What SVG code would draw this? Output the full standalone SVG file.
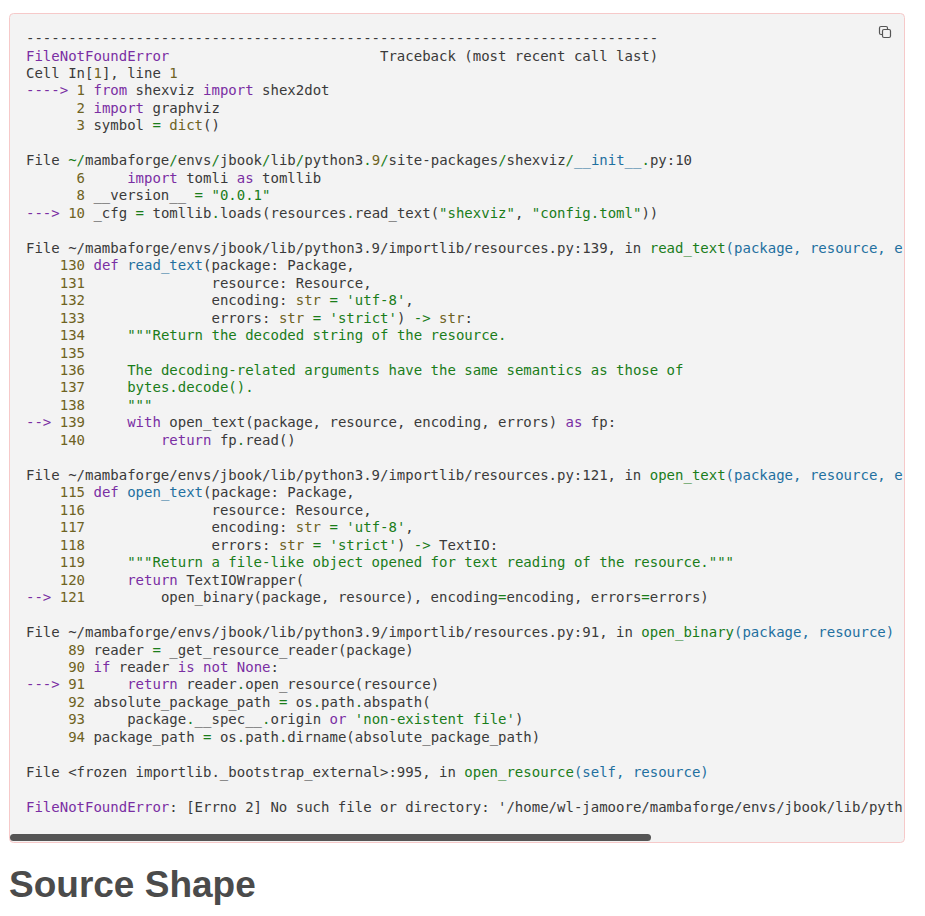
<svg xmlns="http://www.w3.org/2000/svg" width="925" height="916" viewBox="0 0 925 916">
<style>
text.c{font-family:"DejaVu Sans Mono","Liberation Mono",monospace;font-size:14px;fill:#3a3a3a;white-space:pre}
.p{fill:#7a2ea3}.o{fill:#6e6222}.g{fill:#1a7d1a}.b{fill:#1f70a0}
</style>
<defs><clipPath id="clip"><rect x="10" y="14" width="893" height="828"/></clipPath></defs>
<rect width="925" height="916" fill="#fff"/>
<g id="output-box">
<rect x="9.5" y="13.5" width="895" height="829" rx="4" fill="#f3f3f3" stroke="#f6c9c9"/>
<g fill="none" stroke="#555" stroke-width="1.2">
<rect x="879.5" y="26.5" width="8" height="8" rx="1.5"/>
<rect x="882.5" y="29.5" width="8" height="8" rx="1.5" fill="#f3f3f3"/>
</g>
<rect x="10" y="834" width="641" height="7" rx="3.5" fill="#555"/>
</g>
<g id="traceback" clip-path="url(#clip)">
<text class="c" xml:space="preserve" x="26" y="43">---------------------------------------------------------------------------</text>
<text class="c" xml:space="preserve" x="26" y="60.5"><tspan class="p">FileNotFoundError</tspan>                         Traceback (most recent call last)</text>
<text class="c" xml:space="preserve" x="26" y="77.9">Cell In[<tspan class="o">1</tspan>], line <tspan class="o">1</tspan></text>
<text class="c" xml:space="preserve" x="26" y="95.4"><tspan class="p">----&gt;</tspan> <tspan class="o">1</tspan> <tspan class="p">from</tspan> shexviz <tspan class="p">import</tspan> shex2dot</text>
<text class="c" xml:space="preserve" x="26" y="112.9">      <tspan class="o">2</tspan> <tspan class="p">import</tspan> graphviz</text>
<text class="c" xml:space="preserve" x="26" y="130.4">      <tspan class="o">3</tspan> symbol <tspan class="g">=</tspan> <tspan class="o">dict</tspan>()</text>
<text class="c" xml:space="preserve" x="26" y="165.3">File <tspan class="g">~/</tspan>mambaforge<tspan class="g">/</tspan>envs<tspan class="g">/</tspan>jbook<tspan class="g">/</tspan>lib<tspan class="g">/</tspan>python3<tspan class="g">.</tspan><tspan class="o">9</tspan><tspan class="g">/</tspan>site-packages<tspan class="g">/</tspan>shexviz<tspan class="g">/</tspan><tspan class="b">__init__</tspan><tspan class="g">.</tspan>py:10</text>
<text class="c" xml:space="preserve" x="26" y="182.8">      <tspan class="o">6</tspan>     <tspan class="p">import</tspan> tomli <tspan class="p">as</tspan> tomllib</text>
<text class="c" xml:space="preserve" x="26" y="200.3">      <tspan class="o">8</tspan> __version__ <tspan class="g">=</tspan> <tspan class="g">"0.0.1"</tspan></text>
<text class="c" xml:space="preserve" x="26" y="217.7"><tspan class="p">---&gt;</tspan> <tspan class="o">10</tspan> _cfg <tspan class="g">=</tspan> tomllib<tspan class="g">.</tspan>loads(resources<tspan class="g">.</tspan>read_text(<tspan class="g">"shexviz"</tspan>, <tspan class="g">"config.toml"</tspan>))</text>
<text class="c" xml:space="preserve" x="26" y="252.6">File ~/mambaforge/envs/jbook/lib/python3.9/importlib/resources.py:139, in <tspan class="g">read_text</tspan><tspan class="b">(package, resource, encoding, errors)</tspan></text>
<text class="c" xml:space="preserve" x="26" y="270.1">    <tspan class="o">130</tspan> <tspan class="p">def</tspan> <tspan class="b">read_text</tspan>(package: Package,</text>
<text class="c" xml:space="preserve" x="26" y="287.6">    <tspan class="o">131</tspan>               resource: Resource,</text>
<text class="c" xml:space="preserve" x="26" y="305.1">    <tspan class="o">132</tspan>               encoding: <tspan class="o">str</tspan> <tspan class="g">=</tspan> <tspan class="g">'utf-8'</tspan>,</text>
<text class="c" xml:space="preserve" x="26" y="322.5">    <tspan class="o">133</tspan>               errors: <tspan class="o">str</tspan> <tspan class="g">=</tspan> <tspan class="g">'strict'</tspan>) <tspan class="g">-&gt;</tspan> <tspan class="o">str</tspan>:</text>
<text class="c" xml:space="preserve" x="26" y="340">    <tspan class="o">134</tspan>     <tspan class="g">"""Return the decoded string of the resource.</tspan></text>
<text class="c" xml:space="preserve" x="26" y="357.5">    <tspan class="o">135</tspan></text>
<text class="c" xml:space="preserve" x="26" y="374.9">    <tspan class="o">136</tspan>     <tspan class="g">The decoding-related arguments have the same semantics as those of</tspan></text>
<text class="c" xml:space="preserve" x="26" y="392.4">    <tspan class="o">137</tspan>     <tspan class="g">bytes.decode().</tspan></text>
<text class="c" xml:space="preserve" x="26" y="409.9">    <tspan class="o">138</tspan>     <tspan class="g">"""</tspan></text>
<text class="c" xml:space="preserve" x="26" y="427.3"><tspan class="p">--&gt;</tspan> <tspan class="o">139</tspan>     <tspan class="p">with</tspan> open_text(package, resource, encoding, errors) <tspan class="p">as</tspan> fp:</text>
<text class="c" xml:space="preserve" x="26" y="444.8">    <tspan class="o">140</tspan>         <tspan class="p">return</tspan> fp<tspan class="g">.</tspan>read()</text>
<text class="c" xml:space="preserve" x="26" y="479.8">File ~/mambaforge/envs/jbook/lib/python3.9/importlib/resources.py:121, in <tspan class="g">open_text</tspan><tspan class="b">(package, resource, encoding, errors)</tspan></text>
<text class="c" xml:space="preserve" x="26" y="497.2">    <tspan class="o">115</tspan> <tspan class="p">def</tspan> <tspan class="b">open_text</tspan>(package: Package,</text>
<text class="c" xml:space="preserve" x="26" y="514.7">    <tspan class="o">116</tspan>               resource: Resource,</text>
<text class="c" xml:space="preserve" x="26" y="532.2">    <tspan class="o">117</tspan>               encoding: <tspan class="o">str</tspan> <tspan class="g">=</tspan> <tspan class="g">'utf-8'</tspan>,</text>
<text class="c" xml:space="preserve" x="26" y="549.6">    <tspan class="o">118</tspan>               errors: <tspan class="o">str</tspan> <tspan class="g">=</tspan> <tspan class="g">'strict'</tspan>) <tspan class="g">-&gt;</tspan> TextIO:</text>
<text class="c" xml:space="preserve" x="26" y="567.1">    <tspan class="o">119</tspan>     <tspan class="g">"""Return a file-like object opened for text reading of the resource."""</tspan></text>
<text class="c" xml:space="preserve" x="26" y="584.6">    <tspan class="o">120</tspan>     <tspan class="p">return</tspan> TextIOWrapper(</text>
<text class="c" xml:space="preserve" x="26" y="602"><tspan class="p">--&gt;</tspan> <tspan class="o">121</tspan>         open_binary(package, resource), encoding<tspan class="g">=</tspan>encoding, errors<tspan class="g">=</tspan>errors)</text>
<text class="c" xml:space="preserve" x="26" y="637">File ~/mambaforge/envs/jbook/lib/python3.9/importlib/resources.py:91, in <tspan class="g">open_binary</tspan><tspan class="b">(package, resource)</tspan></text>
<text class="c" xml:space="preserve" x="26" y="654.5">     <tspan class="o">89</tspan> reader <tspan class="g">=</tspan> _get_resource_reader(package)</text>
<text class="c" xml:space="preserve" x="26" y="671.9">     <tspan class="o">90</tspan> <tspan class="p">if</tspan> reader <tspan class="p">is</tspan> <tspan class="p">not</tspan> <tspan class="p">None</tspan>:</text>
<text class="c" xml:space="preserve" x="26" y="689.4"><tspan class="p">---&gt;</tspan> <tspan class="o">91</tspan>     <tspan class="p">return</tspan> reader<tspan class="g">.</tspan>open_resource(resource)</text>
<text class="c" xml:space="preserve" x="26" y="706.9">     <tspan class="o">92</tspan> absolute_package_path <tspan class="g">=</tspan> os<tspan class="g">.</tspan>path<tspan class="g">.</tspan>abspath(</text>
<text class="c" xml:space="preserve" x="26" y="724.3">     <tspan class="o">93</tspan>     package<tspan class="g">.</tspan>__spec__<tspan class="g">.</tspan>origin <tspan class="p">or</tspan> <tspan class="g">'non-existent file'</tspan>)</text>
<text class="c" xml:space="preserve" x="26" y="741.8">     <tspan class="o">94</tspan> package_path <tspan class="g">=</tspan> os<tspan class="g">.</tspan>path<tspan class="g">.</tspan>dirname(absolute_package_path)</text>
<text class="c" xml:space="preserve" x="26" y="776.7">File &lt;frozen importlib._bootstrap_external&gt;:995, in <tspan class="g">open_resource</tspan><tspan class="b">(self, resource)</tspan></text>
<text class="c" xml:space="preserve" x="26" y="811.7"><tspan class="p">FileNotFoundError</tspan>: [Errno 2] No such file or directory: '/home/wl-jamoore/mambaforge/envs/jbook/lib/python3.9/site-packages/shexviz/config.toml'</text>
</g>
<g id="heading">
<text x="9" y="897" font-family="'Liberation Sans',Arial,sans-serif" font-size="37" font-weight="600" fill="#4b4b4b">Source Shape</text>
</g>
</svg>
